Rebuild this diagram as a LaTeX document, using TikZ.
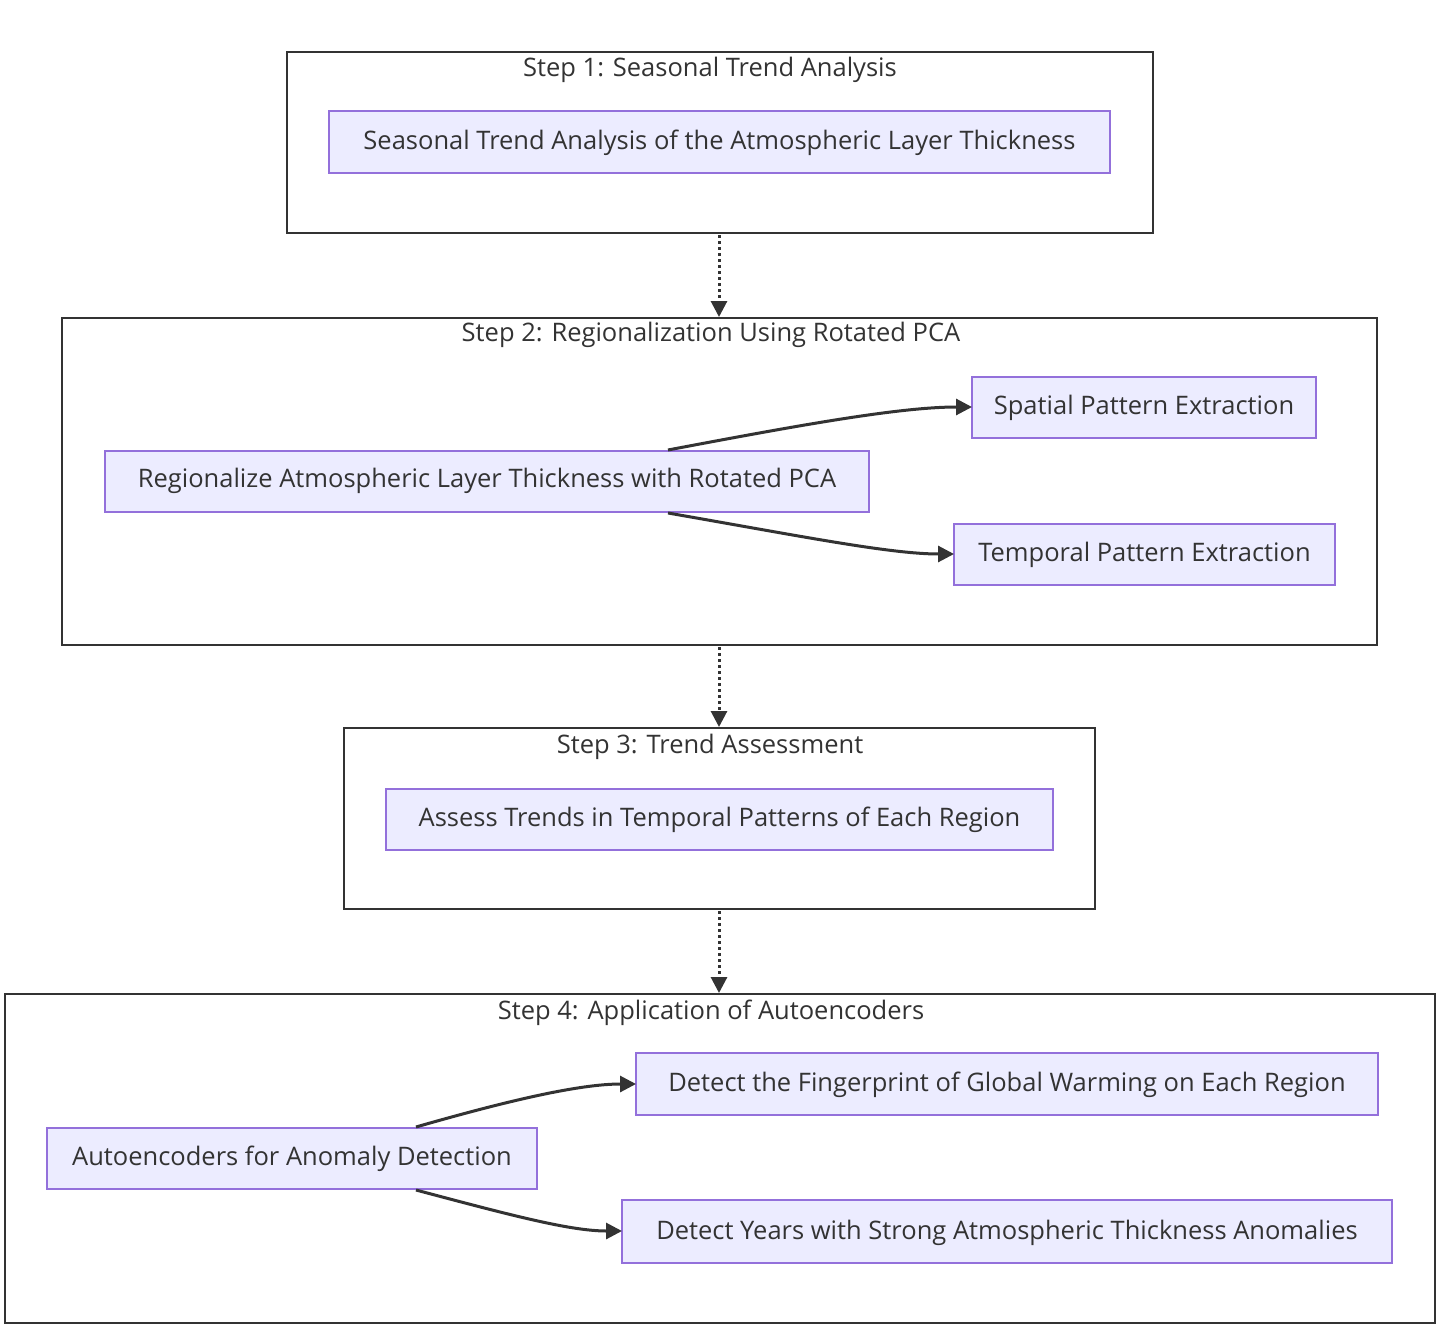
\documentclass[tikz,border=0pt]{standalone}
\usepackage{fontspec}
\setmainfont{Open Sans}
\usetikzlibrary{arrows.meta}
\definecolor{nfill}{HTML}{ECECFF}
\definecolor{nbord}{HTML}{9370DB}
\definecolor{dk}{HTML}{333333}
\begin{document}
\begin{tikzpicture}[x=1pt,y=-1pt,
  font=\fontsize{25.5}{28}\selectfont,
  grp/.style={draw=dk,line width=2.6pt,fill=white},
  nd/.style={draw=nbord,line width=1.8pt,fill=nfill},
  lbl/.style={text=dk,inner sep=0},
  dot/.style={draw=dk,line width=3pt,dash pattern=on 3pt off 3pt,-{Triangle[length=16pt,width=16pt]}},
  arr/.style={draw=dk,line width=3pt,-{Triangle[length=16pt,width=16pt]}}]
\useasboundingbox (0,0) rectangle (1437,1327);
% groups
\draw[grp] (287,52) rectangle (1153,233);
\draw[grp] (62,318) rectangle (1377,645);
\draw[grp] (344,728) rectangle (1095,909);
\draw[grp] (5,994) rectangle (1435,1323);
\node[lbl] (t1) at (710,70) {Step 1: Seasonal Trend Analysis};
\node[lbl] (t2) at (711,335) {Step 2: Regionalization Using Rotated PCA};
\node[lbl] (t3) at (710,747) {Step 3: Trend Assessment};
\node[lbl] (t4) at (711,1013) {Step 4: Application of Autoencoders};
% nodes
\draw[nd] (329,111) rectangle (1110,173); \node[lbl] (a) at (719.5,143) {Seasonal Trend Analysis of the Atmospheric Layer Thickness};
\draw[nd] (105,451) rectangle (869,512); \node[lbl] (b) at (487,481) {Regionalize Atmospheric Layer Thickness with Rotated PCA};
\draw[nd] (972,377) rectangle (1316,438); \node[lbl] (c) at (1144,408) {Spatial Pattern Extraction};
\draw[nd] (954,524) rectangle (1335,585); \node[lbl] (d) at (1144.5,555) {Temporal Pattern Extraction};
\draw[nd] (386,789) rectangle (1053,850); \node[lbl] (e) at (719.5,820) {Assess Trends in Temporal Patterns of Each Region};
\draw[nd] (47,1128) rectangle (537,1189); \node[lbl] (f) at (292,1159) {Autoencoders for Anomaly Detection};
\draw[nd] (636,1053) rectangle (1378,1115); \node[lbl] (g) at (1007,1085) {Detect the Fingerprint of Global Warming on Each Region};
\draw[nd] (622,1200) rectangle (1392,1263); \node[lbl] (h) at (1007,1233) {Detect Years with Strong Atmospheric Thickness Anomalies};
\coordinate (s1) at (719,235); \coordinate (e1) at (719,317);
\coordinate (s2) at (719,647); \coordinate (e2) at (719,727);
\coordinate (s3) at (719,911); \coordinate (e3) at (719,993);
\draw[dot] (s1) -- (e1);
\draw[dot] (s2) -- (e2);
\draw[dot] (s3) -- (e3);
\coordinate (b1) at (668,450); \coordinate (b2) at (668,513);
\coordinate (c1) at (972,407); \coordinate (d1) at (954,554);
\draw[arr] (b1) .. controls (800,425) and (900,407) .. (c1);
\draw[arr] (b2) .. controls (800,536) and (890,554) .. (d1);
\coordinate (f1) at (416,1127); \coordinate (f2) at (416,1190);
\coordinate (g1) at (636,1084); \coordinate (h1) at (622,1231);
\draw[arr] (f1) .. controls (510,1100) and (580,1084) .. (g1);
\draw[arr] (f2) .. controls (510,1215) and (570,1231) .. (h1);
\end{tikzpicture}
\end{document}
